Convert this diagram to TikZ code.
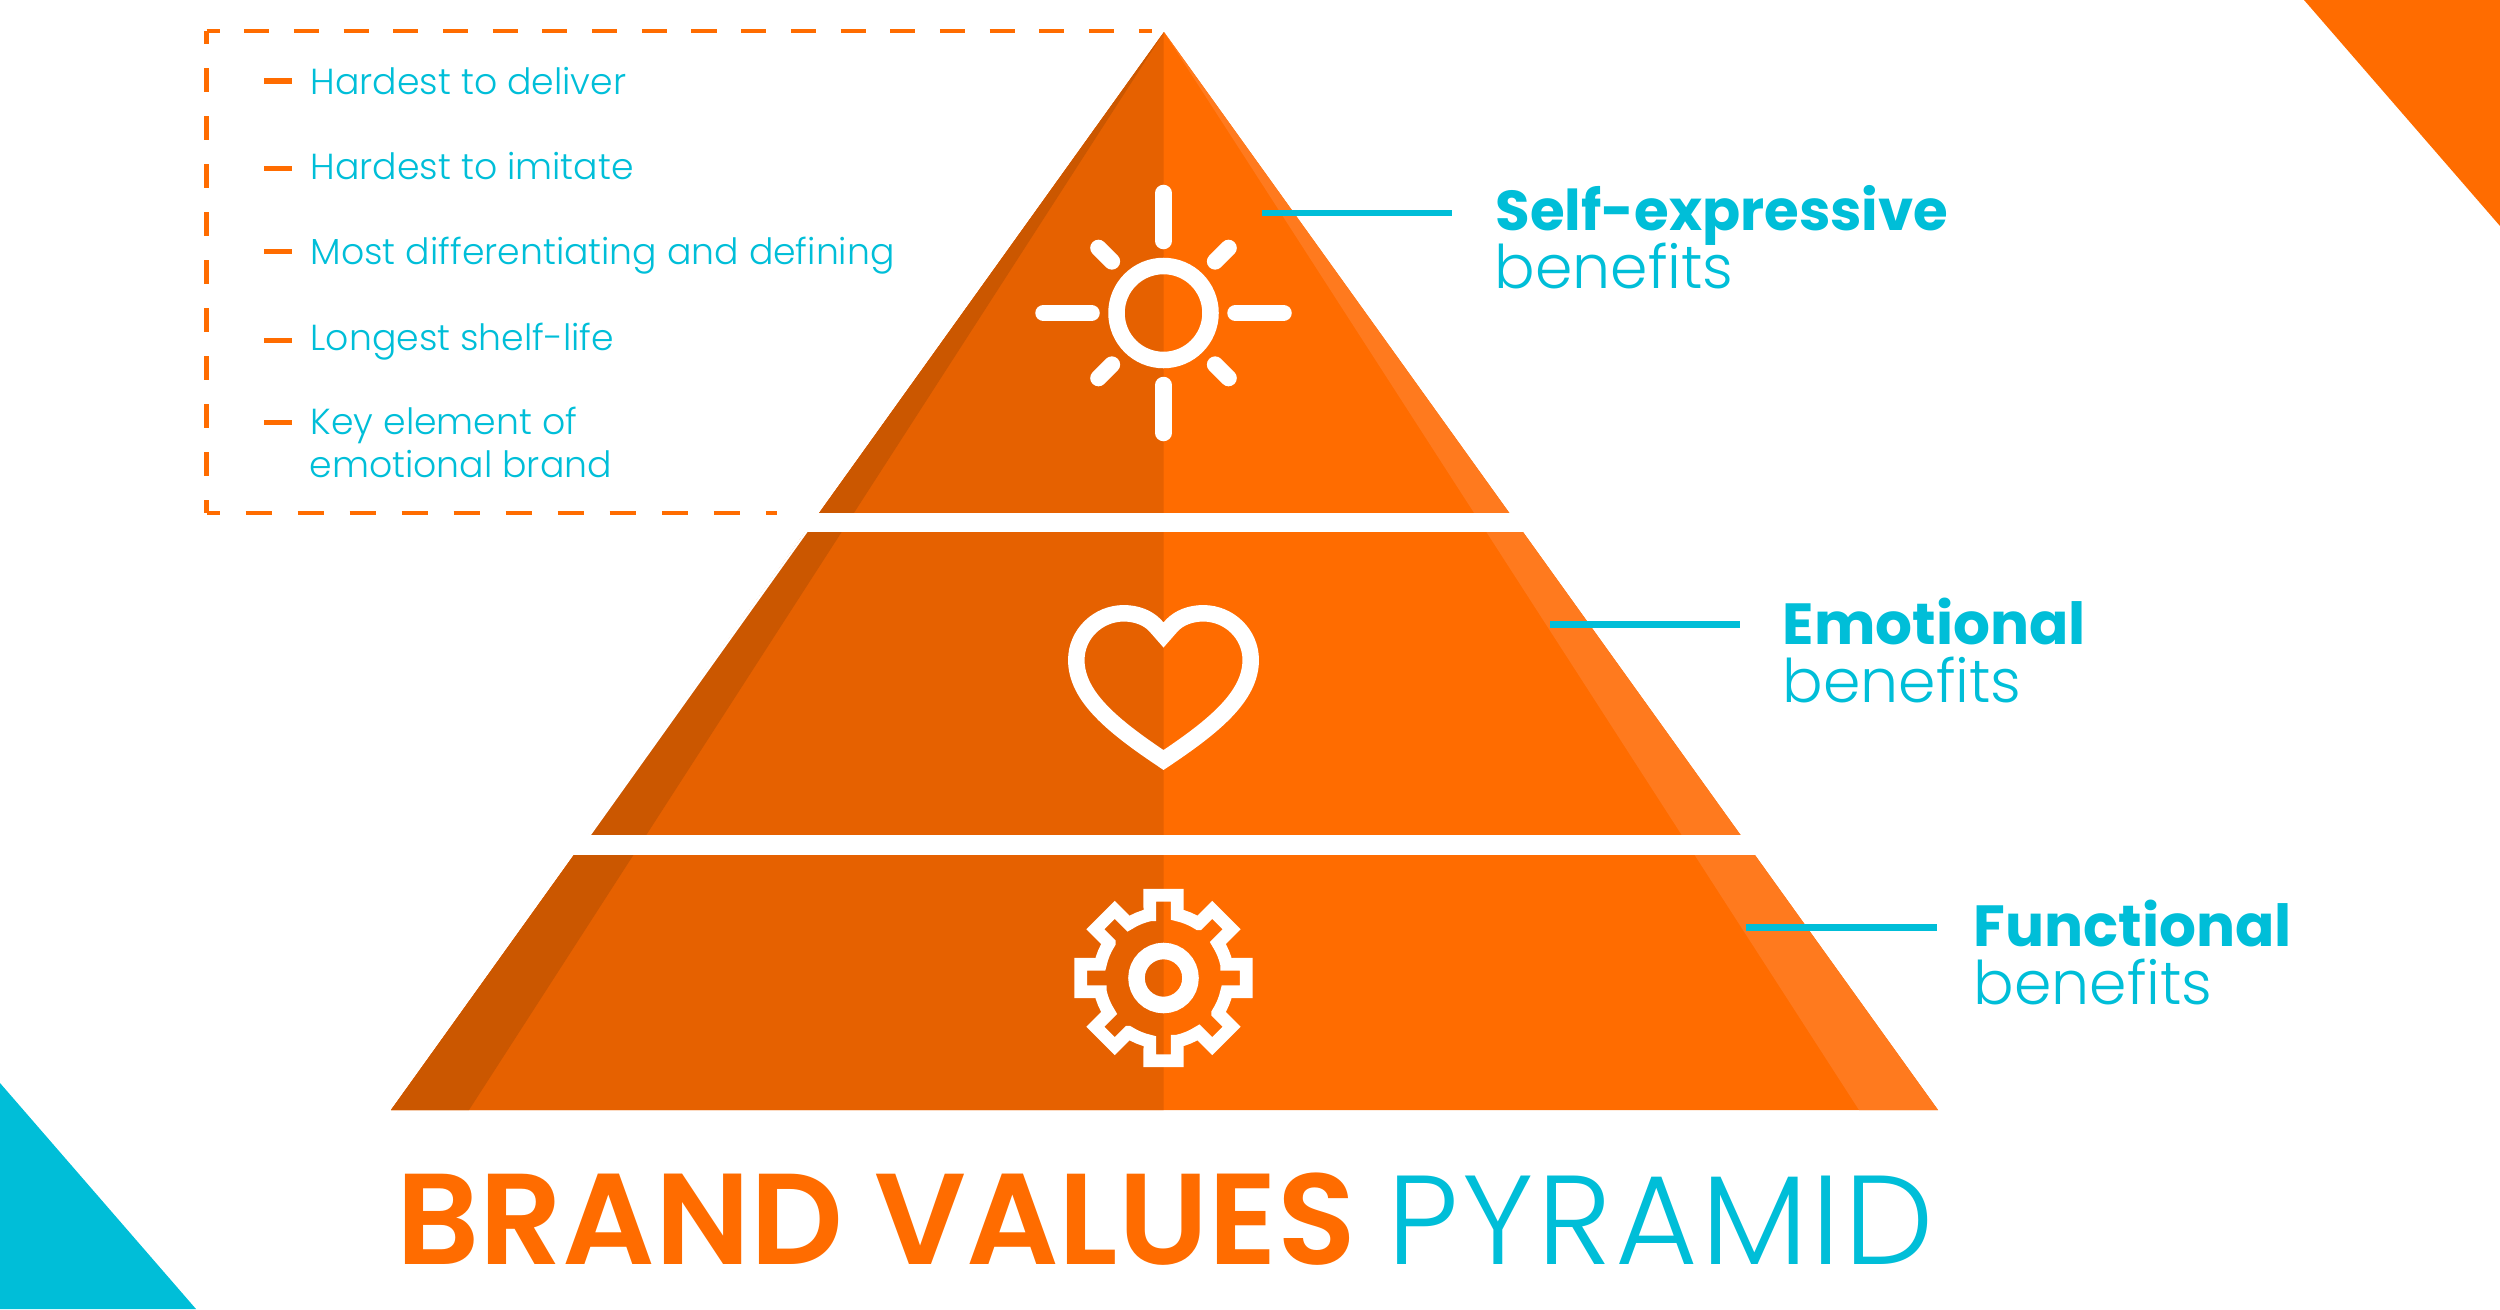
\documentclass[tikz,border=0pt]{standalone}
\usepackage{fontspec}
\newfontfamily\thinfont{Poppins Light}
\newfontfamily\heavyfont{Poppins Bold}
\newfontfamily\semifont{Poppins SemiBold}
\definecolor{pyrright}{HTML}{FF6C00}
\definecolor{pyrleft}{HTML}{E66100}
\definecolor{pyrdark}{HTML}{CB5700}
\definecolor{pyrlight}{HTML}{FF7A1E}
\definecolor{teal}{HTML}{00BED8}
\tikzset{
    listtext/.style={text=teal,font=\thinfont\fontsize{10.3}{12}\selectfont},
    boldlabel/.style={text=teal,font=\heavyfont\fontsize{16.5}{18}\selectfont},
    thinlabel/.style={text=teal,font=\thinfont\fontsize{17.1}{18}\selectfont},
    bullet/.style={draw=pyrright,line width=.05cm},
    leader/.style={draw=teal,line width=.065cm},
    boxline/.style={draw=pyrright,line width=.045cm},
    icon/.style={draw=white,line width=.165cm},
    ray/.style={icon,line cap=round},
}
\begin{document}
\begin{tikzpicture}
        [x=.01cm,y=-.01cm,every node/.style={inner sep=0pt,anchor=base west}]
        \useasboundingbox (0,0) rectangle (2500,1309);

        % corners
        \fill[pyrright] (2304,0) -- (2500,0) -- (2500,226) -- cycle;
        \fill[teal] (0,1083) -- (196,1309) -- (0,1309) -- cycle;

        % pyramid
        \coordinate (apex) at (1164,32);
        \coordinate (bl) at (391,1110);
        \coordinate (br) at (1938,1110);
        \fill[pyrright] (apex) -- (br) -- (bl) -- cycle;
        \fill[pyrleft] (apex) -- (1163.5,32) -- (1163.5,1110) -- (bl) -- cycle;
        \fill[pyrdark] (apex) -- (469,1110) -- (bl) -- cycle;
        \fill[pyrlight] (apex) -- (br) -- (1859,1110) -- cycle;
        \fill[white] (700,513) rectangle (1600,532);
        \fill[white] (500,835) rectangle (1800,855);
        \fill[white] (805,532) -- (807.5,532) -- (591,835) -- (587,835) -- cycle;

        % dashed box
        \coordinate (tl) at (206.5,31);
        \coordinate (tr) at (1152,31);
        \coordinate (bm) at (206.5,513);
        \coordinate (be) at (777,513);
        \draw[boxline,dash pattern=on .25cm off .2467cm,dash phase=.12cm] (tl) -- (tr);
        \draw[boxline,dash pattern=on .24cm off .24cm,dash phase=.11cm] (tl) -- (bm);
        \draw[boxline,dash pattern=on .26cm off .26cm,dash phase=.13cm] (bm) -- (be);

        % sun
        \coordinate (sun) at (1163.5,313);
        \draw[icon] (sun) circle (47);
        \begin{scope}[shift={(sun)}]
            \foreach \a in {0,90,180,270}
                \draw[ray] (\a:72) -- (\a:120);
            \foreach \a in {45,135,225,315}
                \draw[ray] (\a:73) -- (\a:92);
        \end{scope}

        % heart
        \draw[icon,miter limit=10] (1163.5,635) -- (1172,625.3)
            .. controls (1179,618) and (1190,613.3) .. (1203.3,613.3)
            .. controls (1229,613.3) and (1250.7,634) .. (1250.7,660)
            .. controls (1250.7,696.7) and (1213.3,726.7) .. (1163.5,760)
            .. controls (1113.7,726.7) and (1076.3,696.7) .. (1076.3,660)
            .. controls (1076.3,634) and (1098,613.3) .. (1123.7,613.3)
            .. controls (1137,613.3) and (1148,618) .. (1155,625.3)
            -- cycle;

        % gear
        \begin{scope}[shift={(1163.5,978)}]
            \draw[icon] (0,0) circle (27);
            \draw[icon,line width=.127cm]
                (-12.2:64.6)
                \foreach \a in {0,45,...,315} {
                    -- (\a-12.2:64.6) -- (\a-9.4:83.8) -- (\a+9.4:83.8) -- (\a+12.2:64.6)
                    arc[start angle=\a+12.2,end angle=\a+32.8,radius=64.6]
                } -- cycle;
        \end{scope}

        % list on the left
        \node[listtext] (deliver) at (310,94.5) {Hardest to deliver};
        \node[listtext] (imitate) at (310,179.5) {Hardest to imitate};
        \node[listtext] (defining) at (310,264.5) {Most differentiating and defining};
        \node[listtext] (shelf) at (310,350) {Longest shelf-life};
        \node[listtext] (element) at (310,434.5) {Key element of};
        \node[listtext] (emotbrand) at (309,477) {emotional brand};
        \foreach \y in {81,168,251,340,422.5}
            \draw[bullet] (264,\y) -- (292,\y);

        % labels on the right
        \draw[leader] (1262,213) -- (1452,213);
        \node[boldlabel,font=\heavyfont\fontsize{16}{18}\selectfont] (selfexp) at (1495,230) {Self-expressive};
        \node[thinlabel] (selfben) at (1494,288) {benefits};
        \draw[leader] (1550,624.5) -- (1740,624.5);
        \node[boldlabel] (emot) at (1782,644) {Emotional};
        \node[thinlabel] (emotben) at (1782,702) {benefits};
        \draw[leader] (1746,927.5) -- (1937,927.5);
        \node[boldlabel] (func) at (1973,946) {Functional};
        \node[thinlabel] (funcben) at (1973,1004) {benefits};

        % title
        \node[text=pyrright,font=\semifont\fontsize{36.8}{40}\selectfont] (brand) at (396,1264) {BRAND VALUES};
        \node[text=teal,font=\thinfont\fontsize{36}{40}\selectfont] (pyr) at (1387,1264) {\addfontfeature{LetterSpace=2.8}PYRAMID};
    \end{tikzpicture}
\end{document}
